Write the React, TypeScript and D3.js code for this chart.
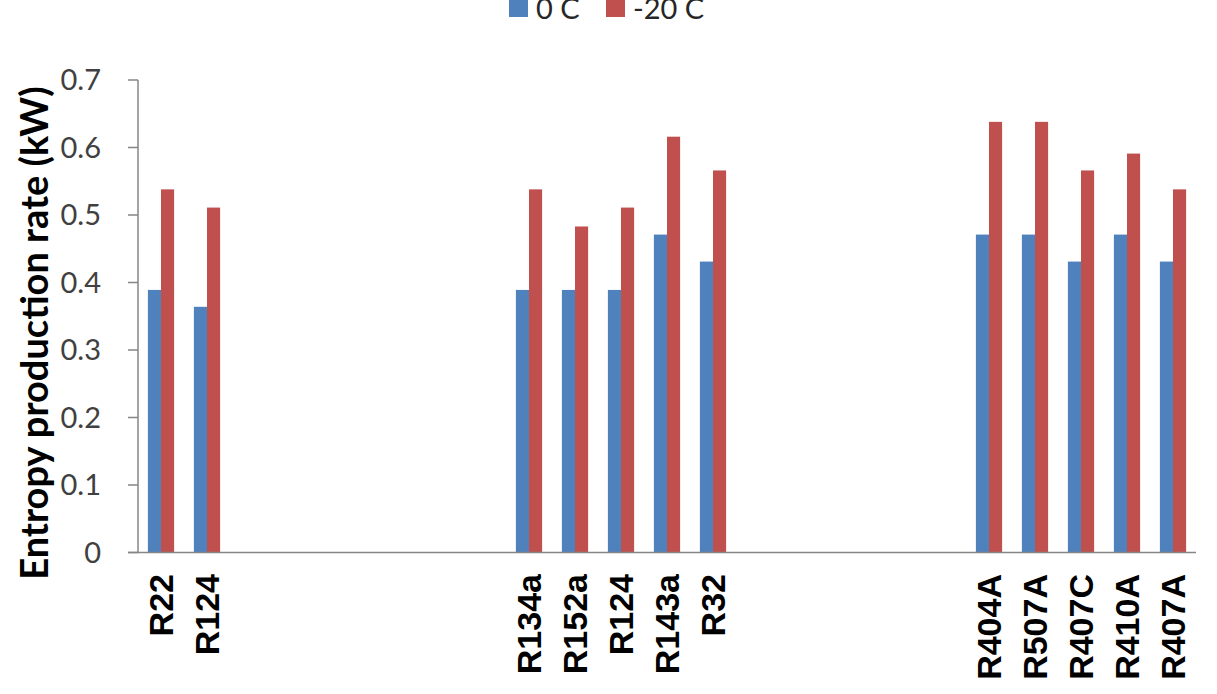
import React, { useEffect } from "react";
import * as d3 from "d3";

// slots with "" are empty gaps between refrigerant groups
const categories: string[] = [
  "R22", "R124", "", "", "", "", "", "",
  "R134a", "R152a", "R124", "R143a", "R32", "", "", "", "", "",
  "R404A", "R507A", "R407C", "R410A", "R407A",
];

const zeroC: (number | null)[] = [
  0.389, 0.364, null, null, null, null, null, null,
  0.389, 0.389, 0.389, 0.471, 0.431, null, null, null, null, null,
  0.471, 0.471, 0.431, 0.471, 0.431,
];

const minus20C: (number | null)[] = [
  0.538, 0.511, null, null, null, null, null, null,
  0.538, 0.483, 0.511, 0.616, 0.566, null, null, null, null, null,
  0.638, 0.638, 0.566, 0.591, 0.538,
];

const seriesNames = ["0 C", "-20 C"];
const seriesColors = ["#4F81BD", "#C0504D"];
const yTicks = [0, 0.1, 0.2, 0.3, 0.4, 0.5, 0.6, 0.7];

const width = 1217;
const height = 694;
const plot = { left: 138, right: 1196, top: 80, bottom: 552.5 };

const App: React.FC = () => {
  useEffect(() => {
    document.body.style.margin = "0";
  }, []);

  const x = d3
    .scaleBand<number>()
    .domain(categories.map((_, i) => i))
    .range([plot.left, plot.right])
    .paddingInner(0.43)
    .paddingOuter(0.215);

  const sub = d3
    .scaleBand<number>()
    .domain([0, 1])
    .range([0, x.bandwidth()]);

  const y = d3.scaleLinear().domain([0, 0.7]).range([plot.bottom, plot.top]);

  const series = [zeroC, minus20C];
  const tickFont = "Lato, 'Open Sans', sans-serif";
  const labelFont = "'Liberation Sans', Arial, sans-serif";

  return (
    <svg width={width} height={height} style={{ display: "block", background: "#fff" }}>
      {/* legend, cut at the top edge as in the source */}
      {seriesNames.map((name, i) => {
        const lx = i === 0 ? 509 : 606;
        return (
          <g key={name}>
            <rect x={lx} y={-2} width={19} height={19} fill={seriesColors[i]} />
            <text x={lx + 27} y={19} fontFamily={tickFont} fontSize={29} fill="#262626">
              {name}
            </text>
          </g>
        );
      })}

      {/* y axis */}
      <line x1={plot.left} x2={plot.left} y1={plot.top} y2={plot.bottom} stroke="#868686" strokeWidth={1.5} />
      {yTicks.map((t) => (
        <g key={t}>
          <line x1={plot.left - 10} x2={plot.left} y1={y(t)} y2={y(t)} stroke="#868686" strokeWidth={1.5} />
          <text
            x={101}
            y={y(t)}
            dy="0.36em"
            textAnchor="end"
            fontFamily={tickFont}
            fontSize={29}
            fill="#404040"
          >
            {d3.format("")(t)}
          </text>
        </g>
      ))}

      {/* bars */}
      {series.map((vals, s) =>
        vals.map((v, i) =>
          v == null ? null : (
            <rect
              key={`${s}-${i}`}
              x={x(i)! + sub(s)!}
              y={y(v)}
              width={sub.bandwidth()}
              height={y(0) - y(v)}
              fill={seriesColors[s]}
            />
          )
        )
      )}

      {/* x axis */}
      <line x1={plot.left - 10} x2={plot.right} y1={plot.bottom} y2={plot.bottom} stroke="#868686" strokeWidth={1.5} />
      {categories.map((c, i) =>
        c === "" ? null : (
          <text
            key={i}
            transform={`translate(${x(i)! + x.bandwidth() / 2},574) rotate(-90)`}
            textAnchor="end"
            dy="0.36em"
            fontFamily={labelFont}
            fontWeight="bold"
            fontSize={34}
            fill="#000"
          >
            {c}
          </text>
        )
      )}

      {/* y title */}
      <text
        transform="translate(35,333) rotate(-90)"
        textAnchor="middle"
        dy="0.35em"
        fontFamily={tickFont}
        fontWeight="bold"
        fontSize={38}
        fill="#000"
      >
        Entropy production rate (kW)
      </text>
    </svg>
  );
};

export default App;
